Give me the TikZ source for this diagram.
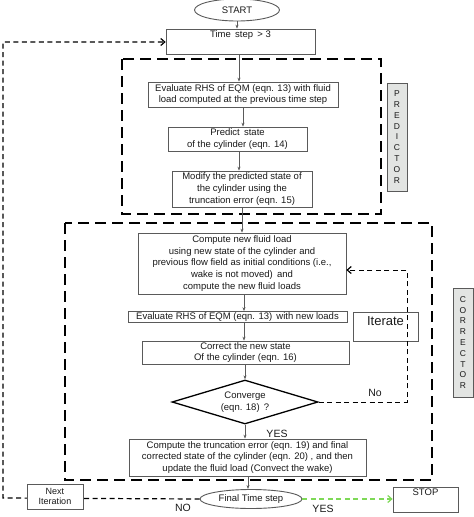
\documentclass[tikz,border=0pt]{standalone}
\usepackage{fontspec}
\setmainfont{Liberation Sans}
\usetikzlibrary{arrows.meta,shapes.geometric,calc}
\definecolor{boxline}{HTML}{5A5A5A}
\definecolor{txt}{HTML}{1A1A1A}
\definecolor{lblfill}{HTML}{E2E4E2}
\definecolor{grn}{HTML}{7ED957}
\begin{document}
\begin{tikzpicture}[x=1pt,y=-1pt,
  font=\fontsize{9.5}{11.8}\selectfont, text=txt,
  stepbox/.style={draw=boxline, line width=0.7pt, rectangle, inner sep=0.5pt, align=center, fill=white},
  oval/.style={draw=boxline, line width=0.9pt, ellipse, inner sep=0pt, fill=white},
  flow/.style={draw=boxline, line width=0.6pt, -{Stealth[length=4pt,width=3pt]}},
  phase/.style={draw=black, line width=1.5pt, dash pattern=on 11pt off 6pt},
  loopline/.style={draw=black, line width=1.2pt, dash pattern=on 5pt off 3.5pt, -{Straight Barb[length=4pt,width=7pt,line width=1.2pt]}},
  sidelabel/.style={draw=boxline, line width=0.7pt, fill=lblfill, align=center, inner sep=0pt, font=\fontsize{8.5}{10.8}\selectfont},
  tag/.style={font=\fontsize{10.5}{12}\selectfont, inner sep=0pt}
]
\useasboundingbox (0,0) rectangle (474,517);

% phase frames
\draw[phase] (122,59) rectangle (381,214);
\draw[phase] (65,223) rectangle (432,480);

\node[sidelabel, minimum width=20pt, minimum height=108pt] (plbl) at (397,137) {P\\R\\E\\D\\I\\C\\T\\O\\R};
\node[sidelabel, minimum width=20pt, minimum height=109pt] (clbl) at (463,342.5) {C\\O\\R\\R\\E\\C\\T\\O\\R};

% nodes
\node[oval, minimum width=85pt, minimum height=22pt] (start) at (237,10) {START};
\node[stepbox, minimum width=149pt, minimum height=25pt, text height=6pt, text depth=15pt] (ts) at (240.5,41.5) {Time\, step\, \textgreater{} 3};
\node[stepbox, minimum width=190pt, minimum height=25pt] (ev1) at (243,94.5) {Evaluate RHS of EQM (eqn. 13) with fluid\\load computed at the previous time step};
\node[stepbox, minimum width=139pt, minimum height=24pt] (pred) at (237.5,139) {Predict\, state\\of the cylinder (eqn. 14)};
\node[stepbox, minimum width=140pt, minimum height=36pt] (mod) at (242,189) {Modify the predicted state of\\the cylinder using the\\truncation error (eqn. 15)};
\node[stepbox, minimum width=208pt, minimum height=61pt, font=\fontsize{9.5}{11.6}\selectfont] (comp) at (242,263.5) {Compute new fluid load\\using new state of the cylinder and\\previous flow field as initial conditions (i.e.,\\wake is not moved)\, and\\compute the new fluid loads};
\node[stepbox, minimum width=219pt, minimum height=11pt, inner sep=0pt] (ev2) at (237.5,317) {Evaluate RHS of EQM (eqn. 13)\, with new loads};
\node[draw=boxline, line width=0.7pt, minimum width=65pt, minimum height=29pt, inner sep=0pt, text height=9pt, text depth=11pt, font=\fontsize{13}{14}\selectfont] (iter) at (385.5,326.5) {Iterate};
\node[stepbox, minimum width=207pt, minimum height=23pt] (corr) at (245.5,352.5) {Correct the new state\\Of the cylinder (eqn. 16)};
\node[draw=black, line width=1.3pt, diamond, aspect=3.3, minimum width=146pt, minimum height=44pt, inner sep=0pt, align=center] (conv) at (245,402) {Converge\\(eqn. 18)\, ?};
\node[stepbox, minimum width=237pt, minimum height=37pt] (trunc) at (247.5,457.5) {Compute the truncation error (eqn. 19) and final\\corrected state of the cylinder (eqn. 20) , and then\\update the fluid load (Convect the wake)};
\node[oval, minimum width=102pt, minimum height=19pt] (final) at (251,499) {Final Time step};
\node[stepbox, minimum width=65pt, minimum height=25pt, text height=6pt, text depth=14pt] (stop) at (425.5,499.5) {STOP};

% main flow
\draw[flow] (start.south) -- (start.south |- ts.north);
\draw[flow] (ts.south -| 239,0) -- (239,0 |- ev1.north);
\draw[flow] (ev1.south -| 243,0) -- (243,0 |- pred.north);
\draw[flow] (pred.south -| 239,0) -- (239,0 |- mod.north);
\draw[flow] (mod.south -| 242,0) -- (242,0 |- comp.north);
\draw[flow] (comp.south -| 244,0) -- (244,0 |- ev2.north);
\draw[flow] (ev2.south -| 244,0) -- (244,0 |- corr.north);
\draw[flow] (corr.south -| 245,0) -- (conv.north);
\draw[flow] (conv.south) -- (conv.south |- trunc.north);
\draw[flow] (trunc.south -| 248,0) -- (248,0 |- final.north);

% iterate loop
\coordinate (itA) at (407,402);
\coordinate (itB) at (407,270);
\draw[loopline, line width=1pt] (conv.east) -- (itA) -- (itB) -- (comp.east |- itB);

% outer loop
\coordinate (lpA) at (3,498);
\coordinate (lpB) at (3,42);
\draw[loopline] (final.west) -- (lpA) -- (lpB) -- (ts.west |- lpB);
\node[stepbox, minimum width=56pt, minimum height=25pt, font=\fontsize{9}{9.8}\selectfont] (next) at (55,496.5) {Next\\Iteration};

% stop arrow
\draw[draw=grn, line width=1.2pt, dash pattern=on 5pt off 3.5pt, -{Straight Barb[length=4pt,width=7pt,line width=1.2pt]}] (final.east) -- (stop.west |- final.east);

% labels
\node[tag] (lno) at (375,393) {No};
\node[tag] (lyes1) at (277,434) {YES};
\node[tag] (lno2) at (183,508) {NO};
\node[tag] (lyes2) at (323,509) {YES};
\end{tikzpicture}
\end{document}
